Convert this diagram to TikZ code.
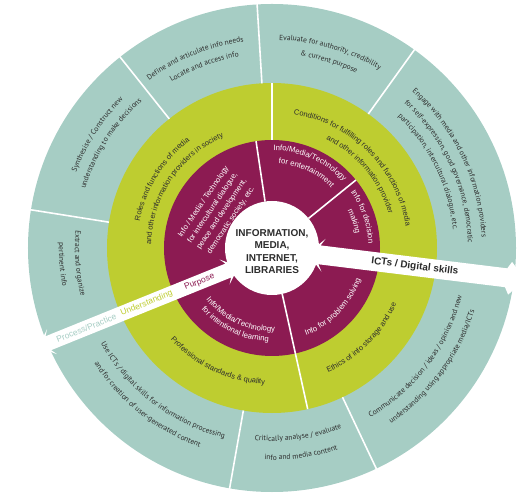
\documentclass[tikz,border=0pt]{standalone}
\usepackage{fontspec}
\setmainfont{Liberation Sans}
\newfontfamily\skillfont{PT Sans}
\usetikzlibrary{decorations.text}
\definecolor{wheelteal}{RGB}{166,205,196}
\definecolor{wheellime}{RGB}{190,205,48}
\definecolor{wheelplum}{RGB}{140,27,82}
\definecolor{wheelink}{RGB}{45,45,45}
\newcommand\tealtxt{\skillfont\fontsize{7.5}{9}\selectfont\color{wheelink}}
\newcommand\limetxt{\fontsize{7.5}{9}\selectfont\color{wheelink}}
\newcommand\plumtxt{\fontsize{7.8}{9}\selectfont\color{white}}
% text on a circle round the hub: font, radius, middle angle, text
\newcommand\cwtext[4]{\path[decorate,decoration={text along path,text align=center,text={|#1|#4}}]
  ({#3+70}:#2) arc[start angle={#3+70},end angle={#3-70},radius=#2];}
\newcommand\ccwtext[4]{\path[decorate,decoration={text along path,text align=center,text={|#1|#4}}]
  ({#3-70}:#2) arc[start angle={#3-70},end angle={#3+70},radius=#2];}
\begin{document}
\begin{tikzpicture}[x=1pt,y=1pt,
    divider/.style={draw=white, line width=1.6pt},
    band/.style={fill=white},
    bandtext/.style={font=\fontsize{8.5}{10}\selectfont, inner sep=0pt}]
  \useasboundingbox (-272,-249) rectangle (252,248);
  % rings
  \fill[wheelteal] (0,0) circle[radius=244];
  \fill[wheellime] (0,0) circle[radius=165];
  \fill[wheelplum] (0,0) circle[radius=108];
  \fill[white] (0,0) circle[radius=47];
  % dividers
  \foreach \a in {54.3,93.5,128.5,171,260,295.3}
    \draw[divider] (\a:165) -- (\a:246);
  \draw[divider] (90:108) -- (90:165);
  \draw[divider] (-77.5:47) -- (-77.5:165);
  \foreach \a in {39,98.5}
    \draw[divider] (\a:47) -- (\a:108);
  % arrows
  \begin{scope}[rotate=202]
    \fill[band] (38,4.5) -- (53,18) -- (49,12) -- (243,12) -- (239,18) -- (254,4.5)
      -- (239,-9) -- (243,-3) -- (49,-3) -- (53,-9) -- cycle;
    \node[bandtext, text=wheelplum, rotate=22] (purpose) at (80,4.5) {Purpose};
    \node[bandtext, text=wheellime, rotate=22] (understanding) at (137,4.5) {Understanding};
    \node[bandtext, text=wheelteal, rotate=22] (practice) at (202,4.5) {Process/Practice};
  \end{scope}
  \begin{scope}[rotate=-7]
    \fill[band] (36,-1) -- (52,15.5) -- (48,8.5) -- (236,8.5) -- (240,15.5) -- (255,-1)
      -- (240,-17.5) -- (236,-10.5) -- (48,-10.5) -- (52,-17.5) -- cycle;
    \node[bandtext, text=wheelink, rotate=-7, font=\bfseries\fontsize{10}{12}\selectfont] (icts) at (144,-1) {ICTs / Digital skills};
  \end{scope}
  % hub
  \node[align=center, text=wheelink, font=\bfseries\fontsize{10}{12.4}\selectfont] (hub) at (0,-3.5)
    {INFORMATION,\\MEDIA,\\INTERNET,\\LIBRARIES};
  % purpose ring
  \cwtext{\plumtxt}{97.5}{66}{Info/Media/Technology}
  \cwtext{\plumtxt}{84.5}{65.5}{for entertainment}
  \cwtext{\plumtxt}{96.5}{19}{Info for decision}
  \cwtext{\plumtxt}{84.5}{18}{making}
  \ccwtext{\plumtxt}{94}{-44}{Info for problem solving}
  \ccwtext{\plumtxt}{83.5}{245}{Info/Media/Technology}
  \ccwtext{\plumtxt}{93.5}{244.5}{for intentional learning}
  \node[align=center, text=white, rotate=56, font=\fontsize{7.6}{11}\selectfont] (peace) at (146:66)
    {Info / Media / Technology\\for intercultural dialogue,\\peace and development,\\democratic society, etc.};
  % understanding ring
  \cwtext{\limetxt}{135}{148}{Roles and functions of media}
  \cwtext{\limetxt}{121}{146}{and other information providers in society}
  \cwtext{\limetxt}{135.5}{45}{Conditions for fulfilling roles and functions of media}
  \cwtext{\limetxt}{121.5}{40}{and other information provider}
  \ccwtext{\limetxt}{136.5}{-45}{Ethics of info storage and use}
  \ccwtext{\limetxt}{136.5}{244.5}{Professional standards {\&} quality}
  % practice ring
  \cwtext{\tealtxt}{208}{112}{Define and articulate info needs}
  \cwtext{\tealtxt}{194}{110.5}{Locate and access info}
  \cwtext{\tealtxt}{208}{73.5}{Evaluate for authority, credibility}
  \cwtext{\tealtxt}{194}{73}{{\&} current purpose}
  \cwtext{\tealtxt}{210}{25.5}{Engage with media and other information providers}
  \cwtext{\tealtxt}{196}{24.5}{for self-expression, good governance, democratic}
  \cwtext{\tealtxt}{182}{26}{participation, intercultural dialogue, etc.}
  \cwtext{\tealtxt}{210}{147}{Synthesise / Construct new}
  \cwtext{\tealtxt}{196}{147}{understanding to make decisions}
  \ccwtext{\tealtxt}{196}{-37}{Communicate decision / ideas / opinion and new}
  \ccwtext{\tealtxt}{212}{-36.5}{understanding using appropriate media/ICTs}
  \ccwtext{\tealtxt}{193}{-82}{Critically analyse / evaluate}
  \ccwtext{\tealtxt}{212}{-82}{info and media content}
  \ccwtext{\tealtxt}{196}{232.5}{Use ICTs / digital skills for information processing}
  \ccwtext{\tealtxt}{212}{231.5}{and for creation of user-generated content}
  \ccwtext{\tealtxt}{197}{184.5}{Extract and organize}
  \ccwtext{\tealtxt}{213}{184.5}{pertinent info}
\end{tikzpicture}
\end{document}
